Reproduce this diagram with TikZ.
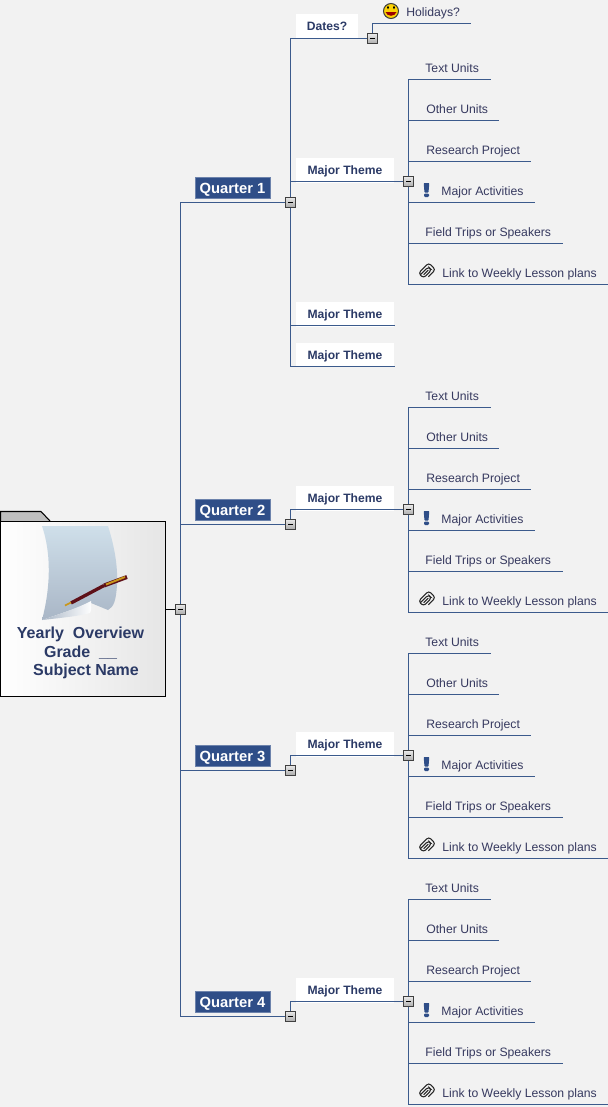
\documentclass[tikz,border=0pt]{standalone}
\usepackage{fontspec}
\setmainfont{Liberation Sans}
\usetikzlibrary{positioning,backgrounds,calc}
\definecolor{pagebg}{HTML}{F2F2F2}
\definecolor{mblue}{HTML}{3B5A8C}
\definecolor{qblue}{HTML}{2F4E88}
\definecolor{mnavy}{HTML}{2B3A66}
\definecolor{mleaf}{HTML}{36395F}
\definecolor{sheetlight}{HTML}{CFDFEA}
\definecolor{sheetdark}{HTML}{A9B6C6}
\definecolor{penred}{HTML}{5E1018}
\definecolor{pengold}{HTML}{C9971C}
\tikzset{
  mline/.style={draw=mblue,line width=0.55pt},
  toggle/.style={draw=black!75,line width=0.55pt,top color=black!8,bottom color=black!32,
    minimum size=0.2cm,inner sep=0pt,
    path picture={\fill[black] ($(path picture bounding box.center)+(-2.2,-0.5)$) rectangle ($(path picture bounding box.center)+(2.2,0.5)$);}},
  quarter/.style={fill=qblue,draw=qblue!70!white,line width=0.3pt,text=white,minimum width=1.5cm,minimum height=0.42cm,inner sep=0pt,text height=6pt,text depth=0pt,font=\fontsize{8.4}{10}\selectfont\bfseries},
  theme/.style={fill=white,text=mnavy,minimum height=0.49cm,inner sep=0pt,text height=5pt,text depth=0pt,font=\fontsize{6.9}{9}\selectfont\bfseries},
  leaf/.style={anchor=base west,text=mleaf,inner sep=0pt,font=\fontsize{6.95}{9}\selectfont},
  rootline/.style={anchor=center,text=mnavy,inner sep=0pt,text height=6.6pt,text depth=0pt,font=\fontsize{9.1}{11}\selectfont\bfseries}
}
\newcommand{\medge}[2]{
  \begin{scope}[on background layer]
    \draw [mline] (#1) |- (#2);
  \end{scope}
}
\newcommand{\mtheme}[4]{
  \begin{scope}[on background layer]
    \node [theme,minimum width=#2*0.02cm] (#4) at #1 {#3};
  \end{scope}
}
\newcommand{\mleaf}[6][(0,0)]{
  \coordinate (#6) at ($#1+#2$);
  \node [leaf] (#6t) at ($#1+#2+(#3,-7)$) {#4};
  \medge{#5}{#6}
}
\newcommand{\mbang}[1]{
  \fill [qblue,rounded corners=0.4pt] ($#1+(-2.8,-7)$) -- ($#1+(2.8,-7)$) -- ($#1+(2,2.5)$) -- ($#1+(-2,2.5)$) -- cycle;
  \fill [qblue,rounded corners=0.6pt] ($#1+(-2.5,3.5)$) rectangle ($#1+(2.5,7)$);
}
\newcommand{\mclip}[1]{
  \begin{scope}[shift={#1},rotate=-45,line width=0.6pt,black!85]
    \draw [rounded corners=1.6pt] (-2,7.5) -- (-2,-4) -- (2.5,-4) -- (2.5,7.5) -- (-4.5,7.5) -- (-4.5,-7) -- (5,-7) -- (5,3);
    \draw (0.3,-1.5) -- (0.3,5);
  \end{scope}
}
% six items hanging off one theme
\newcommand{\mitems}[3]{
  \mleaf[#1]{(491,79)}{-66}{Text Units}{#3}{#2a}
  \mleaf[#1]{(499,120)}{-73}{Other Units}{#3}{#2b}
  \mleaf[#1]{(531,161)}{-105}{Research Project}{#3}{#2c}
  \mleaf[#1]{(535,202)}{-94}{Major Activities}{#3}{#2d}
  \mleaf[#1]{(563,243)}{-138}{Field Trips or Speakers}{#3}{#2e}
  \mleaf[#1]{(608,284)}{-166}{Link to Weekly Lesson plans}{#3}{#2f}
  \mbang{($#1+(426.5,190)$)}
  \mclip{($#1+(427,271)$)}
}

\begin{document}
\begin{tikzpicture}[x=0.02cm,y=-0.02cm]
  \useasboundingbox (0,0) rectangle (608,1107);
  \begin{scope}[on background layer]
    \fill [pagebg] (0,0) rectangle (608,1107);
  \end{scope}

  % root
  \draw [black,line width=0.6pt,fill=black!25] (0.5,521) -- (0.5,511.5) -- (41,511.5) -- (50,521);
  \node [draw=black,line width=0.6pt,left color=white,right color=black!10,minimum width=3.31cm,minimum height=3.49cm,inner sep=0pt] (root) at (83,609) {};
  \shade [top color=sheetlight,bottom color=sheetdark] (42,526) -- (108,526)
    .. controls (114,545) and (118,565) .. (117,585) .. controls (116,600) and (114,607) .. (108,610)
    -- (91,603) -- (42,620) .. controls (50,590) and (52,555) .. (42,526) -- cycle;
  \shade [left color=sheetdark,right color=white] (42,620) .. controls (60,618) and (80,616) .. (90,613) .. controls (92,610) and (91,605) .. (91,601) .. controls (80,607) and (60,614) .. (42,620) -- cycle;
  \draw [line width=1.9pt,color=penred] (71,603) -- (104,585.5);
  \draw [line width=2.3pt,color=penred] (104,585.5) -- (127,577);
  \draw [line width=1.1pt,color=pengold] (106,584.5) -- (125,577);
  \draw [line width=1pt,color=pengold] (65,605.5) -- (71,602.5);
  \node [rootline] (title1) at (80.5,633) {Yearly\ \ Overview};
  \node [rootline] (title2) at (80.5,651.5) {Grade\ \ \_\_};
  \node [rootline] (title3) at (86,670) {Subject Name};

  % toggles
  \node [toggle] (t0) at (180.5,609) {};
  \node [toggle] (q1t) at (290.5,202) {};
  \node [toggle] (q2t) at (290.5,524) {};
  \node [toggle] (q3t) at (290.5,770) {};
  \node [toggle] (q4t) at (290.5,1016) {};
  \node [toggle] (dt) at (372.5,38.5) {};
  \node [toggle] (m1t) at (408.5,181.5) {};
  \node [toggle] (m2t) at (408.5,509.5) {};
  \node [toggle] (m3t) at (408.5,755.5) {};
  \node [toggle] (m4t) at (408.5,1001.5) {};

  \node [quarter] (q1) at (232.5,188) {Quarter 1};
  \node [quarter] (q2) at (232.5,510) {Quarter 2};
  \node [quarter] (q3) at (232.5,756) {Quarter 3};
  \node [quarter] (q4) at (232.5,1002) {Quarter 4};

  \begin{scope}[on background layer]
    \draw [black,line width=0.55pt] (root.east |- t0) -- (t0);
  \end{scope}
  \medge{t0}{q1t}
  \medge{t0}{q2t}
  \medge{t0}{q3t}
  \medge{t0}{q4t}

  % quarter 1
  \mtheme{(327,26.5)}{62}{Dates?}{dates}
  \mtheme{(345,170.5)}{98}{Major Theme}{m1}
  \mtheme{(345,314.5)}{98}{Major Theme}{m1x}
  \mtheme{(345,355)}{98}{Major Theme}{m1y}
  \coordinate (m1xr) at (394.5,325.5);
  \coordinate (m1yr) at (394.5,366.5);
  \medge{q1t}{dt}
  \medge{q1t}{m1t}
  \medge{q1t}{m1xr}
  \medge{q1t}{m1yr}

  \mleaf{(471,23.5)}{-65}{Holidays?}{dt}{hol}
  \draw [black!75,fill=yellow!70!orange,line width=0.6pt] (391,11) circle (7.5);
  \fill [black] (388,7.5) ellipse (1 and 1.8) (394,7.5) ellipse (1 and 1.8);
  \fill [red!60!black] (385.5,12) .. controls (387,17) and (395,17) .. (396.5,12) -- cycle;

  \mitems{(0,0)}{a}{m1t}

  % quarter 2
  \mtheme{(345,498.5)}{98}{Major Theme}{m2}
  \medge{q2t}{m2t}
  \mitems{(0,328)}{b}{m2t}

  % quarter 3
  \mtheme{(345,744.5)}{98}{Major Theme}{m3}
  \medge{q3t}{m3t}
  \mitems{(0,574)}{c}{m3t}

  % quarter 4
  \mtheme{(345,990.5)}{98}{Major Theme}{m4}
  \medge{q4t}{m4t}
  \mitems{(0,820)}{d}{m4t}
\end{tikzpicture}
\end{document}
